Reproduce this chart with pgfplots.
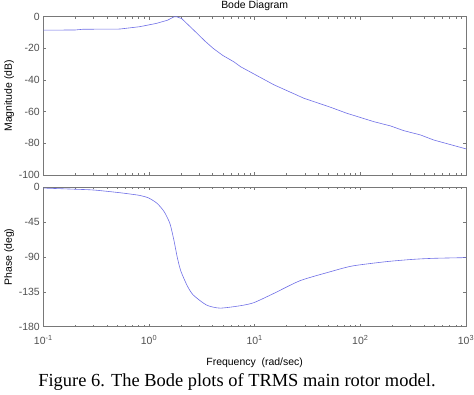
\documentclass[border=0pt]{standalone}
\usepackage{fontspec}
\setmainfont{Liberation Sans}
\newfontfamily\timesfont{Liberation Serif}
\usepackage{pgfplots}
\pgfplotsset{compat=1.18}
\definecolor{curve}{RGB}{110,110,230}
\definecolor{axgray}{RGB}{120,120,120}
\definecolor{lblgray}{RGB}{80,80,80}
\begin{document}
\begin{tikzpicture}
\useasboundingbox (0,0) rectangle (474bp,395bp);
\begin{axis}[scale only axis, width=422.7bp, xmode=log, xmin=0.1, xmax=1000,
  axis line style={axgray, line width=0.6pt},
  tick style={axgray, line width=0.5pt},
  major tick length=3bp, minor tick length=2bp,
  tick align=inside, xtick pos=both, ytick pos=both,
  xticklabel pos=left, yticklabel pos=left,
  ticklabel style={font=\fontsize{10.5}{12}\selectfont, text=lblgray},
  ylabel style={font=\fontsize{10.5}{12}\selectfont},
  ylabel shift=-2bp,
  xtick={0.1,1,10,100,1000},
  at={(43.3bp,220bp)}, anchor=south west, height=158.3bp,
  ymin=-100, ymax=0, ytick={-100,-80,-60,-40,-20,0},
  yticklabels={-100,-80,-60,-40,-20,0},
  xticklabels={},
  ylabel={Magnitude (dB)}]
\addplot[color=curve, line width=0.6pt] coordinates {
(0.1,-8.5) (0.2,-8.4) (0.24,-7.9) (0.3,-7.9) (0.53,-7.8) (0.82,-6.3) (1.18,-4.2) (1.5,-2.2) (1.72,-0.1) (1.82,0) (2.04,-1.2)
(2.8,-10) (3.4,-15.5) (4.05,-20) (5.0,-24.5) (6.36,-28.5) (7.36,-31.6) (15.2,-43) (29.2,-51.5) (52.2,-57.2) (74.5,-61)
(134,-66.3) (193,-69) (258,-72) (371,-74.7) (495,-77.9) (951,-83.1) (1000,-83.5)};
\end{axis}
\begin{axis}[scale only axis, width=422.7bp, xmode=log, xmin=0.1, xmax=1000,
  axis line style={axgray, line width=0.6pt},
  tick style={axgray, line width=0.5pt},
  major tick length=3bp, minor tick length=2bp,
  tick align=inside, xtick pos=both, ytick pos=both,
  xticklabel pos=left, yticklabel pos=left,
  ticklabel style={font=\fontsize{10.5}{12}\selectfont, text=lblgray},
  ylabel style={font=\fontsize{10.5}{12}\selectfont},
  ylabel shift=-2bp,
  xlabel style={font=\fontsize{10.5}{12}\selectfont},
  xtick={0.1,1,10,100,1000},
  at={(43.3bp,68.3bp)}, anchor=south west, height=139.4bp,
  ymin=-180, ymax=0, ytick={-180,-135,-90,-45,0},
  yticklabels={-180,-135,-90,-45,0},
  xticklabels={10\textsuperscript{-1},10\textsuperscript{0},10\textsuperscript{1},10\textsuperscript{2},10\textsuperscript{3}},
  xticklabel style={yshift=-5bp},
  ylabel={Phase (deg)},
  xlabel={Frequency~~(rad/sec)}, xlabel style={yshift=-7bp}]
\addplot[color=curve, line width=0.6pt, smooth, tension=0.4] coordinates {
(0.1,-1) (0.2,-2.5) (0.3,-3.5) (0.53,-7) (0.82,-10.5) (1.0,-14) (1.2,-21) (1.4,-32) (1.58,-47) (1.72,-68) (1.85,-90)
(2.0,-108) (2.3,-127) (2.62,-139) (3.5,-152) (4.69,-156) (7.25,-153) (9.8,-149) (15.2,-137) (27,-120.5)
(52,-109) (84,-101.6) (176,-96) (318,-93) (495,-91.7) (1000,-90.8)};
\end{axis}
\node[font=\fontsize{10.5}{12}\selectfont] at (254.7bp,389bp) {Bode Diagram};
\node[font=\timesfont\fontsize{18.5}{20}\selectfont] at (237bp,13bp) {Figure 6. The Bode plots of TRMS main rotor model.};
\end{tikzpicture}
\end{document}
